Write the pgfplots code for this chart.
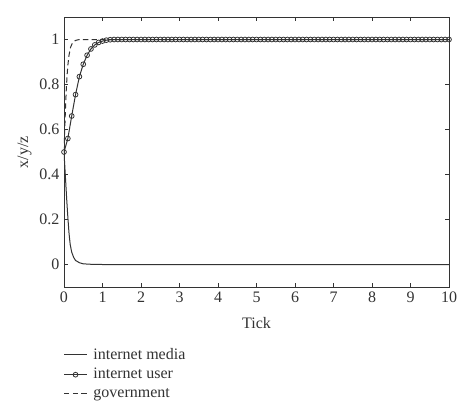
\documentclass[border=0pt]{standalone}
\usepackage{fontspec}
\setmainfont{Liberation Serif}
\usepackage{pgfplots}
\pgfplotsset{compat=1.18}

\pgfplotstableread{
x y
0    0.5
0.1  0.56
0.2  0.66
0.3  0.755
0.4  0.835
0.5  0.89
0.6  0.93
0.7  0.958
0.8  0.976
0.9  0.987
1.0  0.993
1.1  0.997
1.2  0.999
1.3  1
1.4  1
1.5  1
1.6  1
1.7  1
1.8  1
1.9  1
2.0  1
2.1  1
2.2  1
2.3  1
2.4  1
2.5  1
2.6  1
2.7  1
2.8  1
2.9  1
3.0  1
3.1  1
3.2  1
3.3  1
3.4  1
3.5  1
3.6  1
3.7  1
3.8  1
3.9  1
4.0  1
4.1  1
4.2  1
4.3  1
4.4  1
4.5  1
4.6  1
4.7  1
4.8  1
4.9  1
5.0  1
5.1  1
5.2  1
5.3  1
5.4  1
5.5  1
5.6  1
5.7  1
5.8  1
5.9  1
6.0  1
6.1  1
6.2  1
6.3  1
6.4  1
6.5  1
6.6  1
6.7  1
6.8  1
6.9  1
7.0  1
7.1  1
7.2  1
7.3  1
7.4  1
7.5  1
7.6  1
7.7  1
7.8  1
7.9  1
8.0  1
8.1  1
8.2  1
8.3  1
8.4  1
8.5  1
8.6  1
8.7  1
8.8  1
8.9  1
9.0  1
9.1  1
9.2  1
9.3  1
9.4  1
9.5  1
9.6  1
9.7  1
9.8  1
9.9  1
10.0 1
}\usertable

\definecolor{ink}{HTML}{333333}

\begin{document}
\begin{tikzpicture}
% frame of the whole figure (axis box lower-left at the origin)
\path[use as bounding box] (-48pt,-96pt) rectangle (307.5pt,215.25pt);
\begin{axis}[
  at={(0,0)}, anchor=south west,
  scale only axis,
  width=288.75pt, height=202.5pt,
  xmin=0, xmax=10, ymin=-0.1, ymax=1.1,
  xtick={0,1,...,10},
  ytick={0,0.2,0.4,0.6,0.8,1},
  yticklabels={0,0.2,0.4,0.6,0.8,1},
  tick align=inside,
  major tick length=3pt,
  axis line style={ink, line width=0.7pt},
  every tick/.style={ink, line width=0.6pt},
  tick label style={font=\large, text=ink},
  label style={font=\large, text=ink},
  /pgf/number format/assume math mode=true,
  xlabel={Tick},
  ylabel={x/y/z},
  xlabel style={yshift=-4pt},
  ylabel style={yshift=-1pt},
  legend style={at={(-0.012,-0.205)}, anchor=north west, draw=none, fill=none,
    font=\large, text=ink, row sep=1.5pt,
    nodes={inner ysep=2pt, inner xsep=4.5pt, text=ink}},
  legend cell align=left,
]
% internet media
\addplot[ink, line width=0.75pt, no marks] coordinates {
 (0,0.5) (0.01,0.47) (0.03,0.41) (0.05,0.35) (0.07,0.29) (0.1,0.21)
 (0.13,0.14) (0.16,0.09) (0.2,0.055) (0.25,0.032) (0.3,0.018)
 (0.4,0.008) (0.5,0.003) (0.7,0.001) (1,0) (10,0)};
\addlegendentry{internet media}
% internet user
\addplot[ink, line width=0.75pt, mark=o, mark size=1.8pt,
  mark options={solid, line width=0.6pt}] table[x=x,y=y] {\usertable};
\addlegendentry{internet user}
% government
\addplot[ink, line width=0.75pt, dash pattern=on 4pt off 2.5pt, no marks] coordinates {
 (0,0.5) (0.02,0.6) (0.04,0.7) (0.06,0.78) (0.08,0.84) (0.1,0.885)
 (0.13,0.93) (0.17,0.965) (0.22,0.985) (0.3,0.996) (0.4,1) (10,1)};
\addlegendentry{government}
\end{axis}
\end{tikzpicture}
\end{document}
